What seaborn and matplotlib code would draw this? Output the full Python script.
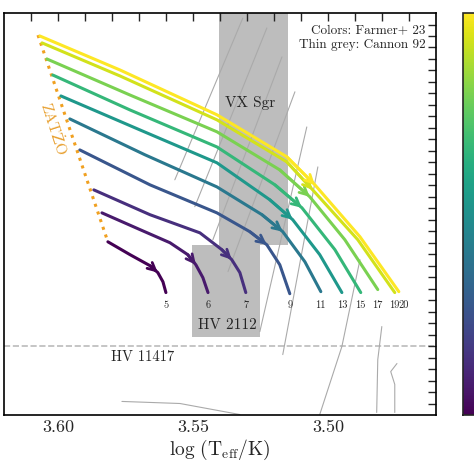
import numpy as np
import matplotlib
matplotlib.use("Agg")
import matplotlib.pyplot as plt
import seaborn as sns

sns.set_style("white")
plt.rcParams['font.family'] = ['cmr10', 'DejaVu Serif']
plt.rcParams['mathtext.fontset'] = 'cm'
plt.rcParams['axes.formatter.use_mathtext'] = True

masses = [5, 6, 7, 9, 11, 13, 15, 17, 19, 20]
tracks_logT = {
    20: [3.6067, 3.5770, 3.5411, 3.5152, 3.5048, 3.4881, 3.4737],
    19: [3.6059, 3.5770, 3.5411, 3.5152, 3.5056, 3.4889, 3.4752],
    17: [3.6041, 3.5733, 3.5411, 3.5178, 3.5067, 3.4937, 3.4815],
    15: [3.6019, 3.5733, 3.5411, 3.5196, 3.5096, 3.4974, 3.4878],
    13: [3.5989, 3.5696, 3.5411, 3.5215, 3.5130, 3.5030, 3.4948],
    11: [3.5956, 3.5678, 3.5411, 3.5244, 3.5167, 3.5085, 3.5026],
    9:  [3.5919, 3.5659, 3.5411, 3.5289, 3.5226, 3.5178, 3.5141],
    7:  [3.5867, 3.5659, 3.5474, 3.5393, 3.5356, 3.5326, 3.5304],
    6:  [3.5837, 3.5696, 3.5585, 3.5519, 3.5489, 3.5463, 3.5444],
    5:  [3.5815, 3.5733, 3.5659, 3.5630, 3.5611, 3.5600],
}
tracks_logL = {
    20: [5.650, 5.502, 5.307, 5.124, 5.002, 4.776, 4.537],
    19: [5.620, 5.476, 5.285, 5.102, 4.980, 4.763, 4.533],
    17: [5.550, 5.393, 5.233, 5.067, 4.950, 4.763, 4.546],
    15: [5.480, 5.328, 5.167, 5.002, 4.902, 4.720, 4.533],
    13: [5.389, 5.241, 5.098, 4.937, 4.850, 4.698, 4.533],
    11: [5.289, 5.133, 4.993, 4.872, 4.798, 4.667, 4.537],
    9:  [5.154, 5.002, 4.880, 4.798, 4.741, 4.654, 4.528],
    7:  [4.980, 4.872, 4.793, 4.720, 4.676, 4.620, 4.533],
    6:  [4.880, 4.807, 4.750, 4.698, 4.654, 4.598, 4.533],
    5:  [4.754, 4.698, 4.650, 4.620, 4.580, 4.533],
}
arrow_idx = {m: 4 for m in masses}
arrow_idx[5] = 3

cannon_logT = [
    [3.5567, 3.5315], [3.5493, 3.5226], [3.5426, 3.5170], [3.5370, 3.5122],
    [3.5252, 3.5078], [3.5167, 3.5037], [3.5030, 3.4948, 3.4881],
    [3.4800, 3.4815, 3.4819], [3.4744, 3.4767, 3.4752, 3.4752],
    [3.5763, 3.5548, 3.5326],
]
cannon_logL = [
    [5.024, 5.728], [4.907, 5.685], [4.763, 5.559], [4.624, 5.407],
    [4.363, 5.254], [4.263, 5.080], [4.002, 4.298, 4.676],
    [4.385, 4.241, 4.011], [4.224, 4.189, 4.133, 4.011],
    [4.059, 4.050, 4.002],
]
zams_logT = [3.6074, 3.5815]
zams_logL = [5.654, 4.754]
vx_T = [3.5404, 3.5148]; vx_L = [4.741, 5.75]
hv2112_T = [3.5504, 3.5252]; hv2112_L = [4.341, 4.741]
hv11417_L = 4.302

fig = plt.figure(figsize=(4.74, 4.74), dpi=100)
ax = fig.add_axes([0.0084, 0.1245, 0.911, 0.848])
cmap = plt.get_cmap('viridis')
norm = matplotlib.colors.Normalize(vmin=5, vmax=20)

ax.fill_between(vx_T, vx_L[0], vx_L[1], color='#bdbdbd', lw=0, zorder=0)
ax.fill_between(hv2112_T, hv2112_L[0], hv2112_L[1], color='#bdbdbd', lw=0, zorder=0)
ax.axhline(hv11417_L, color='#bbbbbb', ls='--', lw=1.2, zorder=0)

for xs, ys in zip(cannon_logT, cannon_logL):
    ax.plot(xs, ys, color='#aaaaaa', lw=0.8, zorder=1)

for m in masses:
    xs, ys = tracks_logT[m], tracks_logL[m]
    c = cmap(norm(m))
    sns.lineplot(x=xs, y=ys, sort=False, ax=ax, color=c, lw=2.2, zorder=3)
    i = arrow_idx[m]
    ax.annotate('', xy=(xs[i], ys[i]), xytext=(xs[i-1], ys[i-1]),
                arrowprops=dict(arrowstyle='->', color=c, lw=2.0, mutation_scale=14,
                                shrinkA=0, shrinkB=0),
                zorder=4)
    if m == 19:
        ax.text(xs[-1] + 0.0003, 4.476, str(m), fontsize=7.5, ha='center', va='center')
    elif m == 20:
        ax.text(xs[-1] - 0.0018, 4.476, str(m), fontsize=7.5, ha='center', va='center')
    else:
        ax.text(xs[-1], 4.476, str(m), fontsize=7.5, ha='center', va='center')

ax.plot(zams_logT, zams_logL, color='#f0a020', ls=':', lw=2.2, zorder=2)
ax.text(3.6022, 5.241, 'ZATŻO', color='#e8a030', fontsize=11, rotation=-72,
        ha='center', va='center')
ax.text(3.5289, 5.359, 'VX Sgr', fontsize=11, ha='center', va='center')
ax.text(3.5374, 4.389, 'HV 2112', fontsize=11, ha='center', va='center')
ax.text(3.5685, 4.250, 'HV 11417', fontsize=10.5, ha='center', va='center')
ax.text(3.4637, 5.70, 'Colors: Farmer+ 23\nThin grey: Cannon 92', fontsize=9.5,
        ha='right', va='top', linespacing=1.3)

ax.set_xlim(3.62, 3.46)
ax.set_ylim(4.0, 5.75)
ax.set_xticks([3.60, 3.55, 3.50])
ax.set_xticklabels(['3.60', '3.55', '3.50'])
ax.set_xticks(np.arange(3.47, 3.62, 0.01), minor=True)
ax.set_yticks(np.arange(4.05, 5.75, 0.05))
ax.set_yticklabels([])
ax.tick_params(which='both', direction='in', top=True, right=True, length=6, width=1,
               labelsize=13)
ax.set_xlabel(r'$\log\,(\mathrm{T}_\mathrm{eff}/\mathrm{K})$', fontsize=14, labelpad=2)
for s in ax.spines.values():
    s.set_linewidth(1.2)
    s.set_color('black')

cax = fig.add_axes([0.977, 0.1245, 0.05, 0.848])
cb = fig.colorbar(matplotlib.cm.ScalarMappable(norm=norm, cmap=cmap), cax=cax)
cb.set_ticks([])
cb.outline.set_linewidth(1.2)

fig.savefig('out.png', dpi=100)
